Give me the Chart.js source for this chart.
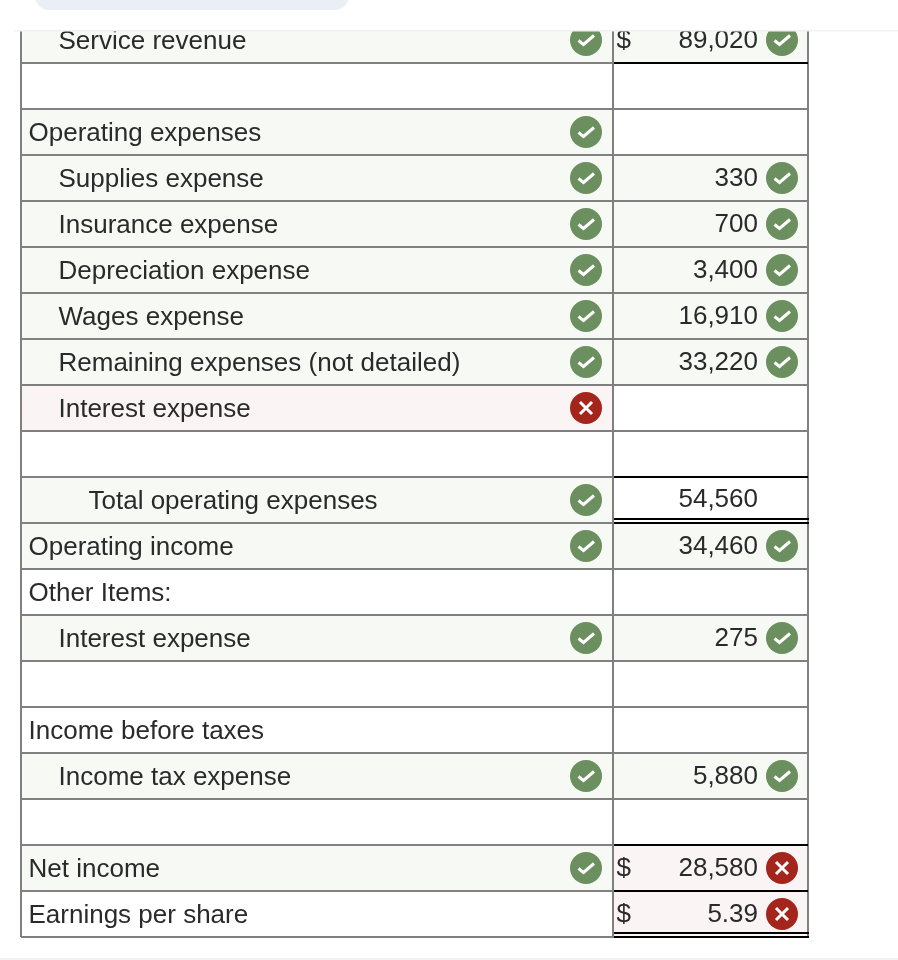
<!DOCTYPE html>
<html>
<head>
<meta charset="utf-8">
<title>Income statement</title>
<script src="https://cdn.jsdelivr.net/npm/chart.js@4/dist/chart.umd.min.js"></script>
<style>
    html, body { margin: 0; padding: 0; background: #fff; overflow: hidden; }
    canvas { display: block; }
</style>
</head>
<body>
<canvas id="chart" width="898" height="960"></canvas>
<script>
const rowLabels = [
    "Service revenue", "",
    "Operating expenses", "Supplies expense", "Insurance expense",
    "Depreciation expense", "Wages expense", "Remaining expenses (not detailed)",
    "Interest expense", "",
    "Total operating expenses", "Operating income", "Other Items:",
    "Interest expense", "",
    "Income before taxes", "Income tax expense", "",
    "Net income", "Earnings per share",
];
const rowIndents = [1, 0, 0, 1, 1, 1, 1, 1, 1, 0, 2, 0, 0, 1, 0, 0, 1, 0, 0, 0];
const amounts = [
    "89,020", "", "", "330", "700", "3,400", "16,910", "33,220", "", "",
    "54,560", "34,460", "", "275", "", "", "5,880", "", "28,580", "5.39",
];
const dollarRows = [0, 18, 19];
const labelMarks = [
    "ok", "", "ok", "ok", "ok", "ok", "ok", "ok", "bad", "",
    "ok", "ok", "", "ok", "", "", "ok", "", "ok", "",
];
const amountMarks = [
    "ok", "", "", "ok", "ok", "ok", "ok", "ok", "", "",
    "", "ok", "", "ok", "", "", "ok", "", "bad", "bad",
];
// row edges carrying the black accounting rules
const singleRules = [1, 10, 18, 19];
const doubleRules = [11, 20];

const LABEL_COL = 592;
const AMOUNT_COL = 195;
const FONT = '26px "Liberation Sans", Arial, sans-serif';
const TEXT = "#2a2a2a";
const GRID = "#808080";
const FILLS = {ok: "#f7f9f5", bad: "#fbf4f4", "": "#ffffff"};

function makeIcon(color, draw) {
    const c = document.createElement("canvas");
    c.width = c.height = 32;
    const g = c.getContext("2d");
    g.fillStyle = color;
    g.beginPath();
    g.arc(16, 16, 16, 0, Math.PI * 2);
    g.fill();
    g.strokeStyle = "#fff";
    g.lineWidth = 3;
    g.lineJoin = "miter";
    g.beginPath();
    draw(g);
    g.stroke();
    return c;
}

const icons = {
    ok: makeIcon("#6b8f5e", (g) => {
        g.moveTo(8.5, 16.5);
        g.lineTo(13.5, 20.5);
        g.lineTo(24, 11.5);
    }),
    bad: makeIcon("#a4251c", (g) => {
        g.moveTo(10, 10);
        g.lineTo(22, 22);
        g.moveTo(22, 10);
        g.lineTo(10, 22);
    }),
};

const markDataset = (marks, xValue) => ({
    type: "scatter",
    order: 1,
    showLine: false,
    data: marks.map((m, i) => ({x: m ? xValue : null, y: i})),
    pointStyle: (ctx) => icons[marks[ctx.dataIndex]] || false,
    pointRadius: 16,
});

const cellDataset = (marks, start, end) => ({
    type: "bar",
    order: 2,
    grouped: false,
    indexAxis: "y",
    barPercentage: 1,
    categoryPercentage: 1,
    data: marks.map(() => [start, end]),
    backgroundColor: (ctx) => FILLS[marks[ctx.dataIndex]],
});

const tablePlugin = {
    id: "tableText",
    afterDraw(chart) {
        const {ctx, scales} = chart;
        const {x, y} = scales;
        const colEdge = x.getPixelForValue(LABEL_COL);
        const right = x.getPixelForValue(LABEL_COL + AMOUNT_COL);
        const rowH = y.height / rowLabels.length;
        ctx.save();
        ctx.font = FONT;
        ctx.fillStyle = TEXT;
        ctx.textBaseline = "middle";
        rowLabels.forEach((label, i) => {
            const py = y.getPixelForValue(i) + 2;
            ctx.textAlign = "left";
            ctx.fillText(label, x.left + 7.5 + rowIndents[i] * 30, py);
            if (dollarRows.includes(i)) {
                ctx.fillText("$", colEdge + 3.5, py - 1);
            }
            ctx.textAlign = "right";
            const shift = i === 10 ? -2 : -1;
            ctx.fillText(amounts[i], right - 50, py + shift);
        });
        ctx.fillStyle = "#000";
        singleRules.forEach((n) => {
            const py = Math.round(y.top + n * rowH);
            ctx.fillRect(colEdge + 1, py - 1, right - colEdge - 1, 2);
        });
        doubleRules.forEach((n) => {
            const py = Math.round(y.top + n * rowH);
            ctx.fillRect(colEdge + 1, py - 1, right - colEdge, 2);
            ctx.fillRect(colEdge + 1, py - 5, right - colEdge, 2);
        });

        // page chrome around the scrolled table
        ctx.fillStyle = "#ffffff";
        ctx.fillRect(0, 0, chart.width, 30);
        ctx.fillStyle = "#f1f1f1";
        ctx.fillRect(14, 30, chart.width - 14, 1.5);
        ctx.fillStyle = "#e9eff5";
        ctx.beginPath();
        ctx.roundRect(35, -20, 314, 30, 14);
        ctx.fill();
        ctx.fillStyle = "#f2f2f2";
        ctx.fillRect(0, 958, chart.width, 2);
        ctx.restore();
    },
};

new Chart(document.getElementById("chart"), {
    type: "bar",
    plugins: [tablePlugin],
    data: {
        labels: rowLabels.map((label, i) => `${i}:${label}`),
        datasets: [
            cellDataset(labelMarks, 0, LABEL_COL),
            cellDataset(amountMarks, LABEL_COL, LABEL_COL + AMOUNT_COL),
            markDataset(labelMarks, LABEL_COL - 27),
            markDataset(amountMarks, LABEL_COL + AMOUNT_COL - 26),
        ],
    },
    options: {
        responsive: false,
        animation: false,
        devicePixelRatio: 1,
        layout: {padding: {left: 21, top: 17, right: 90, bottom: 23}},
        plugins: {legend: {display: false}, tooltip: {enabled: false}, title: {display: false}},
        scales: {
            x: {
                type: "linear",
                offset: false,
                min: 0,
                max: LABEL_COL + AMOUNT_COL,
                afterBuildTicks(axis) {
                    axis.ticks = [{value: 0}, {value: LABEL_COL}, {value: LABEL_COL + AMOUNT_COL}];
                },
                ticks: {display: false},
                border: {display: false},
                grid: {color: GRID, lineWidth: 2, drawTicks: false, offset: false, z: 1},
            },
            y: {
                type: "category",
                offset: true,
                ticks: {display: false, autoSkip: false},
                border: {display: false},
                grid: {color: GRID, lineWidth: 2, drawTicks: false, offset: true, z: 1},
            },
        },
    },
});
</script>
</body>
</html>
